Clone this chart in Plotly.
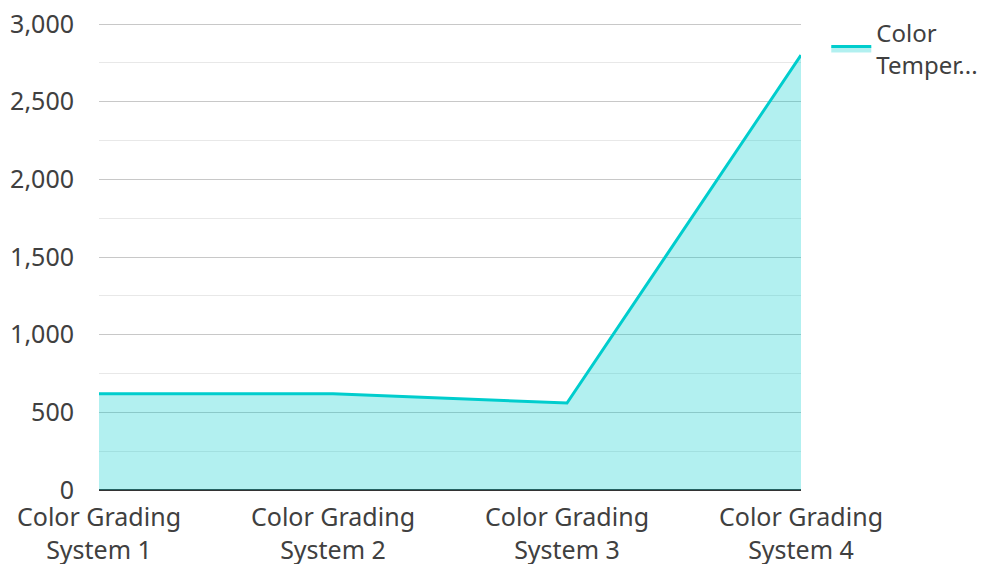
import plotly.graph_objects as go

categories = ["Color Grading<br>System 1", "Color Grading<br>System 2",
              "Color Grading<br>System 3", "Color Grading<br>System 4"]
values = [620, 620, 560, 2800]
series_name = "Color<br>Temper..."
y_ticks = [0, 500, 1000, 1500, 2000, 2500, 3000]
y_tick_labels = ["0", "500", "1,000", "1,500", "2,000", "2,500", "3,000"]

x_pos = list(range(len(categories)))

fig = go.Figure()
fig.add_trace(go.Scatter(
    x=x_pos, y=values, name=series_name, mode="lines",
    line=dict(color="#00CDCD", width=3),
    fill="tozeroy", fillcolor="rgba(0,205,205,0.3)",
))

font = "Noto Sans, Open Sans, sans-serif"
fig.update_layout(
    width=983, height=556,
    margin=dict(l=91, r=190, t=15, b=74, autoexpand=False),
    paper_bgcolor="white", plot_bgcolor="white",
    font=dict(family=font, size=25, color="#404040"),
    showlegend=True,
    legend=dict(x=1.036, y=1.026, xanchor="left", yanchor="top",
                font=dict(size=24, color="#404040"), itemwidth=40,
                tracegroupgap=0),
    xaxis=dict(range=[0, 3], tickvals=x_pos, ticktext=categories,
               showgrid=False, zeroline=False, showline=False,
               ticks="", automargin=False, ticklabelstandoff=10,
               ticklabeloverflow="allow",
               tickfont=dict(size=25, color="#404040")),
    yaxis=dict(range=[0, 3007], tickvals=y_ticks, ticktext=y_tick_labels,
               showgrid=True, gridcolor="#C8C8C8", gridwidth=1,
               zeroline=True, zerolinecolor="#333333", zerolinewidth=2,
               showline=False, ticks="", automargin=False,
               ticklabelstandoff=24, ticklabeloverflow="allow",
               tickfont=dict(size=25, color="#404040"),
               minor=dict(dtick=250, showgrid=True, gridcolor="#E8E8E8", gridwidth=1)),
)

fig.write_html("out.html")
